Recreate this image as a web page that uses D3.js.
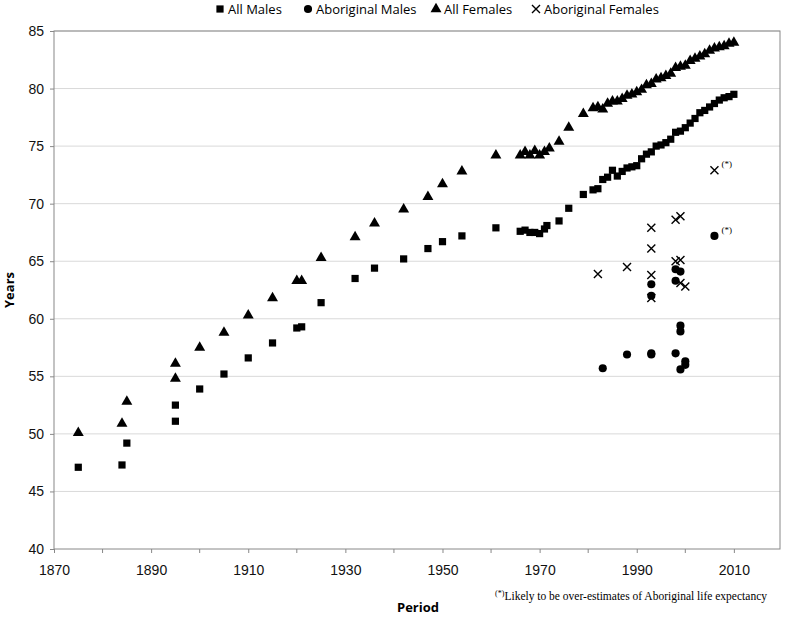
<!DOCTYPE html>
<html>
<head>
  <meta charset="utf-8">
  <script src="https://cdn.jsdelivr.net/npm/d3@7"></script>
  <style>
    body { margin: 0; background: #fff; font-family: "Open Sans", Arial, sans-serif; }
    .tick text { font-size: 14px; fill: #111; }
  </style>
</head>
<body>
<svg id="chart" width="785" height="618"></svg>
<script>
// [year, years]
const allMales = [[1875,47.1],[1884,47.3],[1885,49.2],[1895,51.1],[1895,52.5],[1900,53.9],[1905,55.2],[1910,56.6],[1915,57.9],[1920,59.2],[1921,59.3],[1925,61.4],[1932,63.5],[1936,64.4],[1942,65.2],[1947,66.1],[1950,66.7],[1954,67.2],[1961,67.9],[1966,67.6],[1967,67.7],[1968,67.5],[1969,67.5],[1970,67.4],[1971,67.8],[1971.5,68.1],[1974,68.5],[1976,69.6],[1979,70.8],[1981,71.2],[1982,71.3],[1983,72.1],[1984,72.3],[1985,72.9],[1986,72.4],[1987,72.8],[1988,73.1],[1989,73.2],[1990,73.3],[1991,73.9],[1992,74.3],[1993,74.5],[1994,75.0],[1995,75.1],[1996,75.3],[1997,75.6],[1998,76.2],[1999,76.3],[2000,76.6],[2001,77.0],[2002,77.4],[2003,77.9],[2004,78.1],[2005,78.4],[2006,78.7],[2007,79.0],[2008,79.2],[2009,79.3],[2010,79.5]];
const allFemales = [[1875,50.1],[1884,50.9],[1885,52.8],[1895,54.8],[1895,56.1],[1900,57.5],[1905,58.8],[1910,60.3],[1915,61.8],[1920,63.3],[1921,63.3],[1925,65.3],[1932,67.1],[1936,68.3],[1942,69.5],[1947,70.6],[1950,71.7],[1954,72.8],[1961,74.2],[1966,74.2],[1967,74.5],[1968,74.2],[1969,74.6],[1970,74.2],[1971,74.5],[1972,74.8],[1974,75.4],[1976,76.6],[1979,77.8],[1981,78.3],[1982,78.4],[1983,78.2],[1984,78.7],[1985,78.9],[1986,78.9],[1987,79.1],[1988,79.4],[1989,79.5],[1990,79.7],[1991,79.9],[1992,80.3],[1993,80.4],[1994,80.8],[1995,80.9],[1996,81.1],[1997,81.3],[1998,81.8],[1999,81.9],[2000,82.0],[2001,82.4],[2002,82.6],[2003,82.8],[2004,83.0],[2005,83.3],[2006,83.5],[2007,83.6],[2008,83.7],[2009,83.9],[2010,84.0]];
const aboMales = [[1983,55.7],[1988,56.9],[1993,56.9],[1993,57.0],[1993,62.0],[1993,63.0],[1998,57.0],[1998,63.3],[1998,64.3],[1999,64.1],[1999,59.4],[1999,58.9],[1999,55.6],[2000,56.0],[2000,56.3],[2006,67.2]];
const aboFemales = [[1982,63.9],[1988,64.5],[1993,63.8],[1993,61.8],[1993,66.1],[1993,67.9],[1998,68.6],[1999,68.9],[1998,65.0],[1999,65.1],[1999,63.1],[2000,62.8],[2006,72.9]];
const starred = [[2006,67.2],[2006,72.9]];
const xTicks = [1870,1890,1910,1930,1950,1970,1990,2010];
const yTicks = [40,45,50,55,60,65,70,75,80,85];
const legendNames = ["All Males","Aboriginal Males","All Females","Aboriginal Females"];

const svg = d3.select('#chart');
const L = 54, R = 780, T = 31, B = 549;
const x = d3.scaleLinear().domain([1870,2019.5]).range([L,R]);
const y = d3.scaleLinear().domain([40,85]).range([B,T]);

// grid
svg.append('g').selectAll('line').data(yTicks.slice(1)).join('line')
  .attr('x1',L).attr('x2',R).attr('y1',d=>y(d)).attr('y2',d=>y(d))
  .attr('stroke','#d9d9d9');
svg.append('rect').attr('x',L).attr('y',T).attr('width',R-L).attr('height',B-T)
  .attr('fill','none').attr('stroke','#888');

const xa = svg.append('g').attr('transform',`translate(0,${B})`)
  .call(d3.axisBottom(x).tickValues(xTicks).tickFormat(d3.format('d')).tickSize(4).tickPadding(12));
const ya = svg.append('g').attr('transform',`translate(${L},0)`)
  .call(d3.axisLeft(y).tickValues(yTicks).tickSize(4).tickPadding(6));
[xa,ya].forEach(a => { a.select('.domain').remove(); a.selectAll('line').attr('stroke','#888'); });
// minor x ticks
svg.append('g').selectAll('line').data(d3.range(1880,2020,20)).join('line')
  .attr('x1',d=>x(d)).attr('x2',d=>x(d)).attr('y1',B).attr('y2',B+4).attr('stroke','#888');

const sym = s => d3.symbol().type(s).size(52)();
function plot(data, type) {
  svg.append('g').selectAll('path').data(data).join('path')
    .attr('transform',d=>`translate(${x(d[0])},${y(d[1])})`)
    .attr('d', type === 'x' ? 'M-4,-4L4,4M-4,4L4,-4' : sym(type))
    .attr('fill','#000').attr('stroke', type === 'x' ? '#000' : 'none').attr('stroke-width',1.4);
}
plot(allMales, d3.symbolSquare);
plot(aboMales, d3.symbolCircle);
plot(allFemales, d3.symbolTriangle);
plot(aboFemales, 'x');

svg.append('g').selectAll('text').data(starred).join('text')
  .attr('x',d=>x(d[0])+7).attr('y',d=>y(d[1])-3)
  .attr('font-family','Liberation Serif').attr('font-size',9).text('(*)');

// legend
const types = [d3.symbolSquare, d3.symbolCircle, d3.symbolTriangle, 'x'];
const lx = [220, 308, 436, 536];
legendNames.forEach((n,i) => {
  const g = svg.append('g').attr('transform',`translate(${lx[i]},9)`);
  g.append('path').attr('d', types[i]==='x' ? 'M-4,-4L4,4M-4,4L4,-4' : sym(types[i]))
    .attr('fill','#000').attr('stroke', types[i]==='x' ? '#000':'none').attr('stroke-width',1.4);
  g.append('text').attr('x',8).attr('y',5).attr('font-size',13).text(n);
});

svg.append('text').attr('transform','translate(14,290) rotate(-90)')
  .attr('text-anchor','middle').attr('font-weight','bold').attr('font-size',13).text('Years');
svg.append('text').attr('x',418).attr('y',612).attr('text-anchor','middle')
  .attr('font-weight','bold').attr('font-size',13).text('Period');
const fn = svg.append('text').attr('x',767).attr('y',600).attr('text-anchor','end')
  .attr('font-family','Liberation Serif').attr('font-size',11.5);
fn.append('tspan').attr('font-size',8).attr('dy',-4).text('(*)');
fn.append('tspan').attr('dy',4).text('Likely to be over-estimates of Aboriginal life expectancy');
</script>
</body>
</html>
